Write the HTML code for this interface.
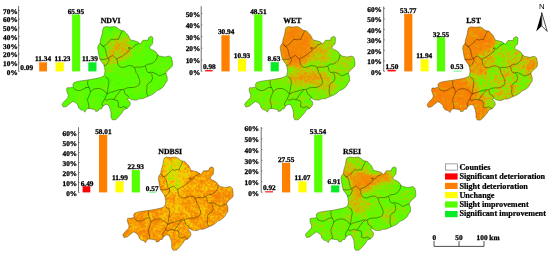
<!DOCTYPE html>
<html><head><meta charset="utf-8"><title>Figure</title>
<style>html,body{margin:0;padding:0;background:#fff}svg{display:block}</style></head>
<body>
<svg width="550" height="255" viewBox="0 0 550 255">
<defs>
<clipPath id="mc"><path d="M103.5 27.6 L106.0 26.5 L110.0 27.0 L115.0 26.5 L117.0 27.5 L119.5 29.5 L121.5 30.5 L124.0 30.8 L125.5 32.5 L128.0 35.0 L129.5 38.0 L130.5 40.0 L133.5 40.5 L137.0 41.5 L139.0 43.0 L140.5 44.0 L142.0 41.5 L143.0 40.2 L144.9 40.3 L148.1 40.1 L148.7 37.5 L151.3 36.3 L152.9 37.5 L152.9 40.7 L152.5 43.9 L150.6 45.8 L149.4 47.7 L151.3 49.4 L153.0 50.0 L156.0 52.0 L157.5 54.5 L159.5 56.0 L162.0 56.5 L164.5 57.0 L167.0 56.5 L169.5 56.0 L171.5 57.5 L172.2 60.5 L172.6 64.0 L172.0 66.5 L170.0 68.5 L168.0 70.0 L166.5 72.0 L165.9 73.3 L167.2 77.1 L167.2 80.9 L165.3 83.5 L164.0 86.0 L162.1 87.9 L159.5 89.8 L157.1 90.5 L154.5 93.1 L151.4 95.0 L148.2 96.3 L145.6 97.5 L142.5 98.8 L139.3 98.8 L136.7 100.1 L133.5 100.1 L131.0 99.5 L129.1 98.2 L127.2 98.8 L129.7 101.4 L130.4 103.9 L129.1 106.5 L127.2 108.4 L124.0 109.6 L122.1 112.8 L118.9 116.6 L115.7 119.8 L112.3 119.8 L111.0 117.3 L111.0 113.5 L110.4 109.6 L109.1 106.5 L107.8 104.5 L105.3 104.5 L102.7 106.5 L101.5 109.0 L99.5 109.0 L98.3 110.9 L95.7 111.5 L95.1 109.6 L91.9 109.0 L88.1 108.4 L86.2 109.6 L84.9 112.2 L83.0 110.3 L80.5 109.6 L78.5 107.7 L77.9 105.2 L75.4 102.6 L72.8 101.4 L69.6 103.9 L66.5 106.5 L63.3 107.1 L62.0 104.5 L63.3 102.4 L65.8 99.8 L67.7 97.9 L68.4 95.4 L67.1 92.2 L66.5 89.6 L67.1 87.7 L70.3 87.7 L73.5 86.7 L72.8 84.5 L74.1 82.6 L77.3 81.4 L80.5 80.9 L85.3 80.3 L90.4 79.5 L95.5 78.6 L100.5 77.4 L103.7 76.1 L104.6 74.2 L105.0 71.0 L104.6 67.8 L103.7 64.6 L101.8 62.1 L99.9 59.5 L99.3 57.0 L98.6 53.8 L98.0 50.0 L97.6 47.5 L98.5 44.9 L100.1 43.0 L100.4 39.8 L101.4 36.6 L102.3 33.5 L102.7 30.3Z"/></clipPath>
<filter id="bl" filterUnits="userSpaceOnUse" x="40" y="10" width="160" height="130" color-interpolation-filters="sRGB"><feGaussianBlur stdDeviation="3"/></filter>
<filter id="f0" filterUnits="userSpaceOnUse" x="58" y="22" width="120" height="102" color-interpolation-filters="sRGB">
<feTurbulence type="fractalNoise" baseFrequency="0.4" numOctaves="2" seed="3" result="n"/>
<feColorMatrix in="n" type="matrix" values="1 0 0 0 0  1 0 0 0 0  1 0 0 0 0  0 0 0 0 1" result="g"/>
<feTurbulence type="fractalNoise" baseFrequency="0.13" numOctaves="2" seed="4" result="m"/>
<feColorMatrix in="m" type="matrix" values="0 1 0 0 0  0 1 0 0 0  0 1 0 0 0  0 0 0 0 1" result="h"/>
<feComposite in="SourceGraphic" in2="g" operator="arithmetic" k1="0" k2="1" k3="0.4" k4="-0.2" result="c"/>
<feComposite in="c" in2="h" operator="arithmetic" k1="0" k2="1" k3="0.3" k4="-0.15" result="c2"/>
<feComponentTransfer in="c2" result="d"><feFuncR type="table" tableValues="0.157 0.235 0.333 0.353 0.490 0.686 0.843 0.925 0.957 0.973 0.980"/><feFuncG type="table" tableValues="0.922 0.961 1.000 0.988 0.933 0.831 0.706 0.596 0.541 0.510 0.486"/><feFuncB type="table" tableValues="0.118 0.059 0.000 0.000 0.000 0.000 0.000 0.020 0.024 0.020 0.020"/><feFuncA type="linear" slope="0" intercept="1"/></feComponentTransfer>
<feGaussianBlur in="d" stdDeviation="0.5"/>
</filter>
<filter id="f1" filterUnits="userSpaceOnUse" x="58" y="22" width="120" height="102" color-interpolation-filters="sRGB">
<feTurbulence type="fractalNoise" baseFrequency="0.4" numOctaves="2" seed="7" result="n"/>
<feColorMatrix in="n" type="matrix" values="1 0 0 0 0  1 0 0 0 0  1 0 0 0 0  0 0 0 0 1" result="g"/>
<feTurbulence type="fractalNoise" baseFrequency="0.13" numOctaves="2" seed="8" result="m"/>
<feColorMatrix in="m" type="matrix" values="0 1 0 0 0  0 1 0 0 0  0 1 0 0 0  0 0 0 0 1" result="h"/>
<feComposite in="SourceGraphic" in2="g" operator="arithmetic" k1="0" k2="1" k3="0.42" k4="-0.21" result="c"/>
<feComposite in="c" in2="h" operator="arithmetic" k1="0" k2="1" k3="0.3" k4="-0.15" result="c2"/>
<feComponentTransfer in="c2" result="d"><feFuncR type="table" tableValues="0.157 0.235 0.333 0.353 0.490 0.686 0.843 0.925 0.957 0.973 0.980"/><feFuncG type="table" tableValues="0.922 0.961 1.000 0.988 0.933 0.831 0.706 0.596 0.541 0.510 0.486"/><feFuncB type="table" tableValues="0.118 0.059 0.000 0.000 0.000 0.000 0.000 0.020 0.024 0.020 0.020"/><feFuncA type="linear" slope="0" intercept="1"/></feComponentTransfer>
<feGaussianBlur in="d" stdDeviation="0.5"/>
</filter>
<filter id="f2" filterUnits="userSpaceOnUse" x="58" y="22" width="120" height="102" color-interpolation-filters="sRGB">
<feTurbulence type="fractalNoise" baseFrequency="0.4" numOctaves="2" seed="11" result="n"/>
<feColorMatrix in="n" type="matrix" values="1 0 0 0 0  1 0 0 0 0  1 0 0 0 0  0 0 0 0 1" result="g"/>
<feTurbulence type="fractalNoise" baseFrequency="0.13" numOctaves="2" seed="12" result="m"/>
<feColorMatrix in="m" type="matrix" values="0 1 0 0 0  0 1 0 0 0  0 1 0 0 0  0 0 0 0 1" result="h"/>
<feComposite in="SourceGraphic" in2="g" operator="arithmetic" k1="0" k2="1" k3="0.6" k4="-0.3" result="c"/>
<feComposite in="c" in2="h" operator="arithmetic" k1="0" k2="1" k3="0.4" k4="-0.2" result="c2"/>
<feComponentTransfer in="c2" result="d"><feFuncR type="table" tableValues="0.157 0.235 0.333 0.353 0.490 0.686 0.843 0.925 0.957 0.973 0.980"/><feFuncG type="table" tableValues="0.922 0.961 1.000 0.988 0.933 0.831 0.706 0.596 0.541 0.510 0.486"/><feFuncB type="table" tableValues="0.118 0.059 0.000 0.000 0.000 0.000 0.000 0.020 0.024 0.020 0.020"/><feFuncA type="linear" slope="0" intercept="1"/></feComponentTransfer>
<feGaussianBlur in="d" stdDeviation="0.5"/>
</filter>
<filter id="f3" filterUnits="userSpaceOnUse" x="58" y="22" width="120" height="102" color-interpolation-filters="sRGB">
<feTurbulence type="fractalNoise" baseFrequency="0.4" numOctaves="2" seed="17" result="n"/>
<feColorMatrix in="n" type="matrix" values="1 0 0 0 0  1 0 0 0 0  1 0 0 0 0  0 0 0 0 1" result="g"/>
<feTurbulence type="fractalNoise" baseFrequency="0.13" numOctaves="2" seed="18" result="m"/>
<feColorMatrix in="m" type="matrix" values="0 1 0 0 0  0 1 0 0 0  0 1 0 0 0  0 0 0 0 1" result="h"/>
<feComposite in="SourceGraphic" in2="g" operator="arithmetic" k1="0" k2="1" k3="0.6" k4="-0.3" result="c"/>
<feComposite in="c" in2="h" operator="arithmetic" k1="0" k2="1" k3="0.4" k4="-0.2" result="c2"/>
<feComponentTransfer in="c2" result="d"><feFuncR type="table" tableValues="0.275 0.333 0.431 0.588 0.784 0.941 0.980 0.969 0.961 0.965 0.973"/><feFuncG type="table" tableValues="0.980 1.000 0.961 0.922 0.882 0.831 0.725 0.620 0.549 0.518 0.494"/><feFuncB type="table" tableValues="0.020 0.000 0.000 0.000 0.000 0.000 0.016 0.020 0.020 0.020 0.020"/><feFuncA type="linear" slope="0" intercept="1"/></feComponentTransfer>
<feGaussianBlur in="d" stdDeviation="0.5"/>
</filter>
<filter id="f4" filterUnits="userSpaceOnUse" x="58" y="22" width="120" height="102" color-interpolation-filters="sRGB">
<feTurbulence type="fractalNoise" baseFrequency="0.4" numOctaves="2" seed="23" result="n"/>
<feColorMatrix in="n" type="matrix" values="1 0 0 0 0  1 0 0 0 0  1 0 0 0 0  0 0 0 0 1" result="g"/>
<feTurbulence type="fractalNoise" baseFrequency="0.13" numOctaves="2" seed="24" result="m"/>
<feColorMatrix in="m" type="matrix" values="0 1 0 0 0  0 1 0 0 0  0 1 0 0 0  0 0 0 0 1" result="h"/>
<feComposite in="SourceGraphic" in2="g" operator="arithmetic" k1="0" k2="1" k3="0.42" k4="-0.21" result="c"/>
<feComposite in="c" in2="h" operator="arithmetic" k1="0" k2="1" k3="0.3" k4="-0.15" result="c2"/>
<feComponentTransfer in="c2" result="d"><feFuncR type="table" tableValues="0.157 0.235 0.333 0.353 0.490 0.686 0.843 0.925 0.957 0.973 0.980"/><feFuncG type="table" tableValues="0.922 0.961 1.000 0.988 0.933 0.831 0.706 0.596 0.541 0.510 0.486"/><feFuncB type="table" tableValues="0.118 0.059 0.000 0.000 0.000 0.000 0.000 0.020 0.024 0.020 0.020"/><feFuncA type="linear" slope="0" intercept="1"/></feComponentTransfer>
<feGaussianBlur in="d" stdDeviation="0.5"/>
</filter>
<g id="bd"><path d="M122.0 30.8 L121.2 33.0 L120.0 35.5 L119.0 37.5 L118.5 39.5 L116.5 39.0 L114.0 39.8 L111.5 39.0 L110.0 40.5 L108.5 42.5 L106.5 44.0 L105.0 45.5 L103.0 46.5 L101.5 45.0 L100.0 43.0 M101.5 45.0 L104.0 47.0 L105.5 49.5 L106.0 52.0 L106.5 54.5 L107.0 56.5 L108.5 58.0 M108.5 58.0 L106.0 59.0 L103.0 59.5 L100.0 59.0 M108.5 58.0 L110.5 56.5 L113.0 55.5 L114.5 57.0 L116.5 59.0 L119.5 57.5 L122.5 56.0 L125.0 54.0 L127.0 52.5 L129.0 51.0 L130.0 49.0 L128.0 48.0 L129.5 47.5 L131.5 48.5 L133.5 47.0 L135.0 45.0 L137.0 44.5 L139.0 43.0 M116.5 59.0 L117.5 61.0 L117.5 63.0 L118.5 65.5 L120.5 67.0 L123.5 67.5 L126.0 66.5 L129.0 65.5 L132.5 66.0 L134.5 67.5 L135.5 70.0 L136.0 72.5 L137.5 74.5 L138.5 77.0 L139.5 79.5 L140.0 82.0 L139.0 85.0 L136.5 86.5 L133.5 87.5 L130.0 87.5 L126.5 88.0 L123.5 89.5 L120.0 89.5 L117.0 90.5 L113.5 91.5 L110.0 92.5 L107.0 94.0 M134.5 67.5 L137.0 67.0 L140.0 67.2 L142.5 66.8 L145.0 66.0 L146.0 68.0 L146.5 70.5 L148.0 72.5 L150.0 72.6 L151.9 74.5 L152.5 78.4 L151.3 81.5 L148.7 82.8 L146.8 85.4 L147.0 88.0 L146.5 91.0 L147.0 94.0 L148.0 96.3 M145.0 66.0 L146.5 65.0 L148.5 64.0 L151.0 64.0 L153.5 62.5 L155.5 60.5 L157.0 58.0 L157.5 54.5 M150.0 72.0 L153.2 72.6 L156.4 73.9 L158.9 75.8 L161.5 75.2 L164.0 73.9 L165.9 73.3 M108.5 58.0 L109.0 60.5 L108.0 62.5 L107.0 64.0 L105.5 65.5 L104.0 65.0 M105.0 76.5 L108.0 78.5 L109.0 82.0 L108.5 85.0 L108.0 88.0 L107.5 91.0 L107.0 94.0 M88.0 80.5 L87.5 83.0 L88.0 85.5 L89.0 87.5 L90.0 89.5 L90.5 92.0 L89.5 94.5 L88.5 97.0 L87.5 99.5 L88.0 102.0 L89.0 106.0 L88.6 108.5 M73.5 87.5 L75.0 89.5 L77.5 90.5 L80.5 90.5 L83.5 89.0 L86.0 87.5 L89.0 87.5 M90.5 92.0 L93.0 89.5 L96.0 88.5 L99.5 88.5 L102.0 89.5 L104.5 91.0 L106.0 93.0 L107.0 94.0 M123.5 89.5 L124.5 92.0 L125.0 94.0 L127.5 95.5 L129.0 97.5 M107.0 94.0 L106.0 96.0 L105.0 98.5 L106.5 100.5 L108.5 99.5 L111.0 99.0 L113.0 99.5 L115.0 98.0 L116.5 95.5 L118.0 93.5 L120.0 91.0 L121.5 90.0 M113.0 99.5 L117.5 100.5 L118.5 103.0 L118.0 106.5 L121.2 107.7 L123.7 106.5 L127.2 108.4 M105.0 98.5 L103.5 101.0 L102.0 103.5 L102.7 106.5" fill="none" stroke="#1a1400" stroke-width="0.6" stroke-opacity="0.7" stroke-linejoin="round"/><path d="M103.5 27.6 L106.0 26.5 L110.0 27.0 L115.0 26.5 L117.0 27.5 L119.5 29.5 L121.5 30.5 L124.0 30.8 L125.5 32.5 L128.0 35.0 L129.5 38.0 L130.5 40.0 L133.5 40.5 L137.0 41.5 L139.0 43.0 L140.5 44.0 L142.0 41.5 L143.0 40.2 L144.9 40.3 L148.1 40.1 L148.7 37.5 L151.3 36.3 L152.9 37.5 L152.9 40.7 L152.5 43.9 L150.6 45.8 L149.4 47.7 L151.3 49.4 L153.0 50.0 L156.0 52.0 L157.5 54.5 L159.5 56.0 L162.0 56.5 L164.5 57.0 L167.0 56.5 L169.5 56.0 L171.5 57.5 L172.2 60.5 L172.6 64.0 L172.0 66.5 L170.0 68.5 L168.0 70.0 L166.5 72.0 L165.9 73.3 L167.2 77.1 L167.2 80.9 L165.3 83.5 L164.0 86.0 L162.1 87.9 L159.5 89.8 L157.1 90.5 L154.5 93.1 L151.4 95.0 L148.2 96.3 L145.6 97.5 L142.5 98.8 L139.3 98.8 L136.7 100.1 L133.5 100.1 L131.0 99.5 L129.1 98.2 L127.2 98.8 L129.7 101.4 L130.4 103.9 L129.1 106.5 L127.2 108.4 L124.0 109.6 L122.1 112.8 L118.9 116.6 L115.7 119.8 L112.3 119.8 L111.0 117.3 L111.0 113.5 L110.4 109.6 L109.1 106.5 L107.8 104.5 L105.3 104.5 L102.7 106.5 L101.5 109.0 L99.5 109.0 L98.3 110.9 L95.7 111.5 L95.1 109.6 L91.9 109.0 L88.1 108.4 L86.2 109.6 L84.9 112.2 L83.0 110.3 L80.5 109.6 L78.5 107.7 L77.9 105.2 L75.4 102.6 L72.8 101.4 L69.6 103.9 L66.5 106.5 L63.3 107.1 L62.0 104.5 L63.3 102.4 L65.8 99.8 L67.7 97.9 L68.4 95.4 L67.1 92.2 L66.5 89.6 L67.1 87.7 L70.3 87.7 L73.5 86.7 L72.8 84.5 L74.1 82.6 L77.3 81.4 L80.5 80.9 L85.3 80.3 L90.4 79.5 L95.5 78.6 L100.5 77.4 L103.7 76.1 L104.6 74.2 L105.0 71.0 L104.6 67.8 L103.7 64.6 L101.8 62.1 L99.9 59.5 L99.3 57.0 L98.6 53.8 L98.0 50.0 L97.6 47.5 L98.5 44.9 L100.1 43.0 L100.4 39.8 L101.4 36.6 L102.3 33.5 L102.7 30.3Z" fill="none" stroke="#2a2000" stroke-width="0.6" stroke-opacity="0.6" stroke-linejoin="round"/></g>
</defs>
<rect width="550" height="255" fill="#fff"/>
<g transform="translate(0 0)">
<g clip-path="url(#mc)"><g filter="url(#f0)"><rect x="58" y="22" width="120" height="102" fill="#454545"/><g filter="url(#bl)"><ellipse cx="119.5" cy="49.0" rx="13.2" ry="12.6" fill="#8f8f8f" transform="rotate(0 119.5 49.0)"/>
<ellipse cx="109.0" cy="62.0" rx="10.3" ry="6.9" fill="#7a7a7a" transform="rotate(0 109.0 62.0)"/>
<ellipse cx="134.0" cy="50.0" rx="3.4" ry="3.4" fill="#6b6b6b" transform="rotate(0 134.0 50.0)"/>
<ellipse cx="142.0" cy="87.0" rx="3.4" ry="5.8" fill="#666666" transform="rotate(0 142.0 87.0)"/></g></g></g>
<use href="#bd"/>
</g>
<g transform="translate(182.5 0)">
<g clip-path="url(#mc)"><g filter="url(#f1)"><rect x="58" y="22" width="120" height="102" fill="#5c5c5c"/><g filter="url(#bl)"><ellipse cx="113.5" cy="45.5" rx="17.8" ry="21.3" fill="#dbdbdb" transform="rotate(0 113.5 45.5)"/>
<ellipse cx="137.0" cy="52.0" rx="10.3" ry="11.5" fill="#8f8f8f" transform="rotate(0 137.0 52.0)"/>
<ellipse cx="127.0" cy="77.5" rx="21.8" ry="7.5" fill="#adadad" transform="rotate(0 127.0 77.5)"/>
<ellipse cx="145.0" cy="84.0" rx="8.0" ry="9.2" fill="#8a8a8a" transform="rotate(0 145.0 84.0)"/>
<ellipse cx="158.5" cy="63.0" rx="14.4" ry="10.3" fill="#737373" transform="rotate(0 158.5 63.0)"/>
<ellipse cx="148.0" cy="41.5" rx="5.8" ry="5.2" fill="#7a7a7a" transform="rotate(0 148.0 41.5)"/></g></g></g>
<use href="#bd"/>
</g>
<g transform="translate(365 0.3)">
<g clip-path="url(#mc)"><g filter="url(#f2)"><rect x="58" y="22" width="120" height="102" fill="#808080"/><g filter="url(#bl)"><ellipse cx="113.0" cy="38.0" rx="17.2" ry="13.8" fill="#dbdbdb" transform="rotate(0 113.0 38.0)"/>
<ellipse cx="104.0" cy="37.0" rx="2.3" ry="2.3" fill="#333333" transform="rotate(0 104.0 37.0)"/>
<ellipse cx="103.0" cy="55.0" rx="8.0" ry="12.6" fill="#dbdbdb" transform="rotate(0 103.0 55.0)"/>
<ellipse cx="118.0" cy="55.0" rx="9.2" ry="5.8" fill="#9e9e9e" transform="rotate(0 118.0 55.0)"/>
<ellipse cx="142.0" cy="43.0" rx="12.6" ry="8.0" fill="#525252" transform="rotate(0 142.0 43.0)"/>
<ellipse cx="147.0" cy="58.0" rx="10.3" ry="4.6" fill="#8c8c8c" transform="rotate(0 147.0 58.0)"/>
<ellipse cx="167.0" cy="65.0" rx="8.0" ry="10.3" fill="#adadad" transform="rotate(0 167.0 65.0)"/>
<ellipse cx="114.0" cy="67.0" rx="9.2" ry="8.0" fill="#b8b8b8" transform="rotate(0 114.0 67.0)"/>
<ellipse cx="84.0" cy="95.5" rx="27.6" ry="20.1" fill="#e0e0e0" transform="rotate(0 84.0 95.5)"/>
<ellipse cx="92.0" cy="106.0" rx="9.2" ry="6.9" fill="#dbdbdb" transform="rotate(0 92.0 106.0)"/>
<ellipse cx="119.0" cy="83.0" rx="9.2" ry="8.0" fill="#666666" transform="rotate(0 119.0 83.0)"/>
<ellipse cx="143.5" cy="84.0" rx="7.5" ry="13.8" fill="#8c8c8c" transform="rotate(0 143.5 84.0)"/>
<ellipse cx="159.5" cy="83.0" rx="10.9" ry="10.3" fill="#666666" transform="rotate(0 159.5 83.0)"/>
<ellipse cx="115.0" cy="109.5" rx="6.9" ry="13.2" fill="#cccccc" transform="rotate(0 115.0 109.5)"/>
<ellipse cx="127.0" cy="104.5" rx="4.6" ry="6.3" fill="#6b6b6b" transform="rotate(0 127.0 104.5)"/>
<ellipse cx="133.0" cy="65.0" rx="8.0" ry="8.0" fill="#6b6b6b" transform="rotate(0 133.0 65.0)"/></g></g></g>
<use href="#bd"/>
</g>
<g transform="translate(60.7 130.5)">
<g clip-path="url(#mc)"><g filter="url(#f3)"><rect x="58" y="22" width="120" height="102" fill="#b2b2b2"/><g filter="url(#bl)"><ellipse cx="113.0" cy="44.0" rx="12.6" ry="18.4" fill="#757575" transform="rotate(0 113.0 44.0)"/>
<ellipse cx="100.5" cy="54.0" rx="4.0" ry="11.5" fill="#c7c7c7" transform="rotate(0 100.5 54.0)"/>
<ellipse cx="112.0" cy="78.0" rx="8.0" ry="6.9" fill="#949494" transform="rotate(0 112.0 78.0)"/>
<ellipse cx="160.0" cy="65.0" rx="11.5" ry="8.0" fill="#c2c2c2" transform="rotate(0 160.0 65.0)"/>
<ellipse cx="82.0" cy="96.0" rx="20.7" ry="13.8" fill="#bdbdbd" transform="rotate(0 82.0 96.0)"/></g></g></g>
<use href="#bd"/>
</g>
<g transform="translate(243.3 130.5)">
<g clip-path="url(#mc)"><g filter="url(#f4)"><rect x="58" y="22" width="120" height="102" fill="#595959"/><g filter="url(#bl)"><ellipse cx="105.5" cy="41.0" rx="5.2" ry="8.0" fill="#b2b2b2" transform="rotate(0 105.5 41.0)"/>
<ellipse cx="120.0" cy="50.5" rx="12.6" ry="9.8" fill="#cccccc" transform="rotate(0 120.0 50.5)"/>
<ellipse cx="140.0" cy="47.0" rx="9.2" ry="5.8" fill="#cccccc" transform="rotate(0 140.0 47.0)"/>
<ellipse cx="113.0" cy="65.0" rx="5.8" ry="8.0" fill="#a8a8a8" transform="rotate(0 113.0 65.0)"/>
<ellipse cx="116.0" cy="77.0" rx="11.5" ry="5.8" fill="#949494" transform="rotate(0 116.0 77.0)"/>
<ellipse cx="144.0" cy="84.0" rx="4.6" ry="6.9" fill="#808080" transform="rotate(0 144.0 84.0)"/>
<ellipse cx="126.0" cy="103.0" rx="3.4" ry="3.4" fill="#949494" transform="rotate(0 126.0 103.0)"/>
<ellipse cx="113.0" cy="32.5" rx="10.3" ry="6.3" fill="#787878" transform="rotate(0 113.0 32.5)"/></g></g></g>
<use href="#bd"/>
</g>
<path d="M18.6 6.0 V71.4" stroke="#333" stroke-width="0.7" fill="none"/>
<path d="M18.6 71.4 h1.3" stroke="#333" stroke-width="0.5"/>
<text transform="translate(17.7 74.6) scale(1.00 1)" text-anchor="end" font-size="7.3" font-family="Liberation Serif, serif" font-weight="bold" stroke="#000" stroke-width="0.28" text-rendering="geometricPrecision">0%</text>
<path d="M18.6 62.7 h1.3" stroke="#333" stroke-width="0.5"/>
<text transform="translate(17.7 65.9) scale(1.00 1)" text-anchor="end" font-size="7.3" font-family="Liberation Serif, serif" font-weight="bold" stroke="#000" stroke-width="0.28" text-rendering="geometricPrecision">10%</text>
<path d="M18.6 54.0 h1.3" stroke="#333" stroke-width="0.5"/>
<text transform="translate(17.7 57.2) scale(1.00 1)" text-anchor="end" font-size="7.3" font-family="Liberation Serif, serif" font-weight="bold" stroke="#000" stroke-width="0.28" text-rendering="geometricPrecision">20%</text>
<path d="M18.6 45.3 h1.3" stroke="#333" stroke-width="0.5"/>
<text transform="translate(17.7 48.5) scale(1.00 1)" text-anchor="end" font-size="7.3" font-family="Liberation Serif, serif" font-weight="bold" stroke="#000" stroke-width="0.28" text-rendering="geometricPrecision">30%</text>
<path d="M18.6 36.6 h1.3" stroke="#333" stroke-width="0.5"/>
<text transform="translate(17.7 39.8) scale(1.00 1)" text-anchor="end" font-size="7.3" font-family="Liberation Serif, serif" font-weight="bold" stroke="#000" stroke-width="0.28" text-rendering="geometricPrecision">40%</text>
<path d="M18.6 27.9 h1.3" stroke="#333" stroke-width="0.5"/>
<text transform="translate(17.7 31.1) scale(1.00 1)" text-anchor="end" font-size="7.3" font-family="Liberation Serif, serif" font-weight="bold" stroke="#000" stroke-width="0.28" text-rendering="geometricPrecision">50%</text>
<path d="M18.6 19.2 h1.3" stroke="#333" stroke-width="0.5"/>
<text transform="translate(17.7 22.4) scale(1.00 1)" text-anchor="end" font-size="7.3" font-family="Liberation Serif, serif" font-weight="bold" stroke="#000" stroke-width="0.28" text-rendering="geometricPrecision">60%</text>
<path d="M18.6 10.5 h1.3" stroke="#333" stroke-width="0.5"/>
<text transform="translate(17.7 13.7) scale(1.00 1)" text-anchor="end" font-size="7.3" font-family="Liberation Serif, serif" font-weight="bold" stroke="#000" stroke-width="0.28" text-rendering="geometricPrecision">70%</text>
<rect x="39.2" y="62.3" width="7.8" height="9.1" fill="#FF8000"/>
<rect x="55.6" y="62.3" width="8.2" height="9.1" fill="#FFFF00"/>
<rect x="72.1" y="14.6" width="8.1" height="56.8" fill="#55FF00"/>
<rect x="88.3" y="62.3" width="8.2" height="9.1" fill="#0AEB28"/>
<text transform="translate(26.7 69.6) scale(1.00 1)" text-anchor="middle" font-size="7.3" font-family="Liberation Serif, serif" font-weight="bold" stroke="#000" stroke-width="0.28" text-rendering="geometricPrecision">0.09</text>
<text transform="translate(43.1 60.8) scale(1.00 1)" text-anchor="middle" font-size="7.3" font-family="Liberation Serif, serif" font-weight="bold" stroke="#000" stroke-width="0.28" text-rendering="geometricPrecision">11.34</text>
<text transform="translate(62.5 61.2) scale(1.00 1)" text-anchor="middle" font-size="7.3" font-family="Liberation Serif, serif" font-weight="bold" stroke="#000" stroke-width="0.28" text-rendering="geometricPrecision">11.23</text>
<text transform="translate(75.9 13.9) scale(1.00 1)" text-anchor="middle" font-size="7.3" font-family="Liberation Serif, serif" font-weight="bold" stroke="#000" stroke-width="0.28" text-rendering="geometricPrecision">65.95</text>
<text transform="translate(89.9 61.2) scale(1.00 1)" text-anchor="middle" font-size="7.3" font-family="Liberation Serif, serif" font-weight="bold" stroke="#000" stroke-width="0.28" text-rendering="geometricPrecision">11.39</text>
<path d="M201.2 6.2 V71.4" stroke="#333" stroke-width="0.7" fill="none"/>
<path d="M201.2 71.4 h1.3" stroke="#333" stroke-width="0.5"/>
<text transform="translate(200.3 74.6) scale(1.00 1)" text-anchor="end" font-size="7.3" font-family="Liberation Serif, serif" font-weight="bold" stroke="#000" stroke-width="0.28" text-rendering="geometricPrecision">0%</text>
<path d="M201.2 59.8 h1.3" stroke="#333" stroke-width="0.5"/>
<text transform="translate(200.3 63.0) scale(1.00 1)" text-anchor="end" font-size="7.3" font-family="Liberation Serif, serif" font-weight="bold" stroke="#000" stroke-width="0.28" text-rendering="geometricPrecision">10%</text>
<path d="M201.2 48.2 h1.3" stroke="#333" stroke-width="0.5"/>
<text transform="translate(200.3 51.4) scale(1.00 1)" text-anchor="end" font-size="7.3" font-family="Liberation Serif, serif" font-weight="bold" stroke="#000" stroke-width="0.28" text-rendering="geometricPrecision">20%</text>
<path d="M201.2 36.6 h1.3" stroke="#333" stroke-width="0.5"/>
<text transform="translate(200.3 39.8) scale(1.00 1)" text-anchor="end" font-size="7.3" font-family="Liberation Serif, serif" font-weight="bold" stroke="#000" stroke-width="0.28" text-rendering="geometricPrecision">30%</text>
<path d="M201.2 25.0 h1.3" stroke="#333" stroke-width="0.5"/>
<text transform="translate(200.3 28.2) scale(1.00 1)" text-anchor="end" font-size="7.3" font-family="Liberation Serif, serif" font-weight="bold" stroke="#000" stroke-width="0.28" text-rendering="geometricPrecision">40%</text>
<path d="M201.2 13.4 h1.3" stroke="#333" stroke-width="0.5"/>
<text transform="translate(200.3 16.6) scale(1.00 1)" text-anchor="end" font-size="7.3" font-family="Liberation Serif, serif" font-weight="bold" stroke="#000" stroke-width="0.28" text-rendering="geometricPrecision">50%</text>
<rect x="205.1" y="70.1" width="7.6" height="1.3" fill="#FF0000"/>
<rect x="221.4" y="35.2" width="8.3" height="36.2" fill="#FF8000"/>
<rect x="237.9" y="58.8" width="8.2" height="12.6" fill="#FFFF00"/>
<rect x="254.2" y="14.4" width="8.2" height="57.0" fill="#55FF00"/>
<rect x="270.6" y="62.1" width="8.2" height="9.3" fill="#0AEB28"/>
<text transform="translate(209.3 68.8) scale(1.00 1)" text-anchor="middle" font-size="7.3" font-family="Liberation Serif, serif" font-weight="bold" stroke="#000" stroke-width="0.28" text-rendering="geometricPrecision">0.98</text>
<text transform="translate(226.1 34.4) scale(1.00 1)" text-anchor="middle" font-size="7.3" font-family="Liberation Serif, serif" font-weight="bold" stroke="#000" stroke-width="0.28" text-rendering="geometricPrecision">30.94</text>
<text transform="translate(242.0 57.6) scale(1.00 1)" text-anchor="middle" font-size="7.3" font-family="Liberation Serif, serif" font-weight="bold" stroke="#000" stroke-width="0.28" text-rendering="geometricPrecision">10.93</text>
<text transform="translate(258.4 13.5) scale(1.00 1)" text-anchor="middle" font-size="7.3" font-family="Liberation Serif, serif" font-weight="bold" stroke="#000" stroke-width="0.28" text-rendering="geometricPrecision">48.51</text>
<text transform="translate(274.0 60.6) scale(1.00 1)" text-anchor="middle" font-size="7.3" font-family="Liberation Serif, serif" font-weight="bold" stroke="#000" stroke-width="0.28" text-rendering="geometricPrecision">8.63</text>
<path d="M383.7 6.5 V71.4" stroke="#333" stroke-width="0.7" fill="none"/>
<path d="M383.7 71.4 h1.3" stroke="#333" stroke-width="0.5"/>
<text transform="translate(381.9 74.6) scale(1.00 1)" text-anchor="end" font-size="7.3" font-family="Liberation Serif, serif" font-weight="bold" stroke="#000" stroke-width="0.28" text-rendering="geometricPrecision">0%</text>
<path d="M383.7 60.9 h1.3" stroke="#333" stroke-width="0.5"/>
<text transform="translate(381.9 64.1) scale(1.00 1)" text-anchor="end" font-size="7.3" font-family="Liberation Serif, serif" font-weight="bold" stroke="#000" stroke-width="0.28" text-rendering="geometricPrecision">10%</text>
<path d="M383.7 50.4 h1.3" stroke="#333" stroke-width="0.5"/>
<text transform="translate(381.9 53.6) scale(1.00 1)" text-anchor="end" font-size="7.3" font-family="Liberation Serif, serif" font-weight="bold" stroke="#000" stroke-width="0.28" text-rendering="geometricPrecision">20%</text>
<path d="M383.7 39.9 h1.3" stroke="#333" stroke-width="0.5"/>
<text transform="translate(381.9 43.1) scale(1.00 1)" text-anchor="end" font-size="7.3" font-family="Liberation Serif, serif" font-weight="bold" stroke="#000" stroke-width="0.28" text-rendering="geometricPrecision">30%</text>
<path d="M383.7 29.4 h1.3" stroke="#333" stroke-width="0.5"/>
<text transform="translate(381.9 32.6) scale(1.00 1)" text-anchor="end" font-size="7.3" font-family="Liberation Serif, serif" font-weight="bold" stroke="#000" stroke-width="0.28" text-rendering="geometricPrecision">40%</text>
<path d="M383.7 18.9 h1.3" stroke="#333" stroke-width="0.5"/>
<text transform="translate(381.9 22.1) scale(1.00 1)" text-anchor="end" font-size="7.3" font-family="Liberation Serif, serif" font-weight="bold" stroke="#000" stroke-width="0.28" text-rendering="geometricPrecision">50%</text>
<path d="M383.7 8.4 h1.3" stroke="#333" stroke-width="0.5"/>
<text transform="translate(381.9 11.6) scale(1.00 1)" text-anchor="end" font-size="7.3" font-family="Liberation Serif, serif" font-weight="bold" stroke="#000" stroke-width="0.28" text-rendering="geometricPrecision">60%</text>
<rect x="387.5" y="69.8" width="8.2" height="1.6" fill="#FF0000"/>
<rect x="404.2" y="13.9" width="8.2" height="57.5" fill="#FF8000"/>
<rect x="420.6" y="59.3" width="8.1" height="12.1" fill="#FFFF00"/>
<rect x="436.9" y="37.3" width="8.2" height="34.1" fill="#55FF00"/>
<rect x="453.6" y="70.8" width="7.9" height="0.6" fill="#0AEB28"/>
<text transform="translate(391.9 68.8) scale(1.00 1)" text-anchor="middle" font-size="7.3" font-family="Liberation Serif, serif" font-weight="bold" stroke="#000" stroke-width="0.28" text-rendering="geometricPrecision">1.50</text>
<text transform="translate(408.3 13.0) scale(1.00 1)" text-anchor="middle" font-size="7.3" font-family="Liberation Serif, serif" font-weight="bold" stroke="#000" stroke-width="0.28" text-rendering="geometricPrecision">53.77</text>
<text transform="translate(424.2 58.0) scale(1.00 1)" text-anchor="middle" font-size="7.3" font-family="Liberation Serif, serif" font-weight="bold" stroke="#000" stroke-width="0.28" text-rendering="geometricPrecision">11.94</text>
<text transform="translate(441.0 36.5) scale(1.00 1)" text-anchor="middle" font-size="7.3" font-family="Liberation Serif, serif" font-weight="bold" stroke="#000" stroke-width="0.28" text-rendering="geometricPrecision">32.55</text>
<text transform="translate(457.0 69.4) scale(1.00 1)" text-anchor="middle" font-size="7.3" font-family="Liberation Serif, serif" font-weight="bold" stroke="#000" stroke-width="0.28" text-rendering="geometricPrecision">0.53</text>
<path d="M78.5 127.2 V192.4" stroke="#333" stroke-width="0.7" fill="none"/>
<path d="M78.5 192.4 h1.3" stroke="#333" stroke-width="0.5"/>
<text transform="translate(77.1 195.6) scale(1.00 1)" text-anchor="end" font-size="7.3" font-family="Liberation Serif, serif" font-weight="bold" stroke="#000" stroke-width="0.28" text-rendering="geometricPrecision">0%</text>
<path d="M78.5 182.4 h1.3" stroke="#333" stroke-width="0.5"/>
<text transform="translate(77.1 185.6) scale(1.00 1)" text-anchor="end" font-size="7.3" font-family="Liberation Serif, serif" font-weight="bold" stroke="#000" stroke-width="0.28" text-rendering="geometricPrecision">10%</text>
<path d="M78.5 172.5 h1.3" stroke="#333" stroke-width="0.5"/>
<text transform="translate(77.1 175.6) scale(1.00 1)" text-anchor="end" font-size="7.3" font-family="Liberation Serif, serif" font-weight="bold" stroke="#000" stroke-width="0.28" text-rendering="geometricPrecision">20%</text>
<path d="M78.5 162.5 h1.3" stroke="#333" stroke-width="0.5"/>
<text transform="translate(77.1 165.7) scale(1.00 1)" text-anchor="end" font-size="7.3" font-family="Liberation Serif, serif" font-weight="bold" stroke="#000" stroke-width="0.28" text-rendering="geometricPrecision">30%</text>
<path d="M78.5 152.5 h1.3" stroke="#333" stroke-width="0.5"/>
<text transform="translate(77.1 155.7) scale(1.00 1)" text-anchor="end" font-size="7.3" font-family="Liberation Serif, serif" font-weight="bold" stroke="#000" stroke-width="0.28" text-rendering="geometricPrecision">40%</text>
<path d="M78.5 142.6 h1.3" stroke="#333" stroke-width="0.5"/>
<text transform="translate(77.1 145.7) scale(1.00 1)" text-anchor="end" font-size="7.3" font-family="Liberation Serif, serif" font-weight="bold" stroke="#000" stroke-width="0.28" text-rendering="geometricPrecision">50%</text>
<path d="M78.5 132.6 h1.3" stroke="#333" stroke-width="0.5"/>
<text transform="translate(77.1 135.7) scale(1.00 1)" text-anchor="end" font-size="7.3" font-family="Liberation Serif, serif" font-weight="bold" stroke="#000" stroke-width="0.28" text-rendering="geometricPrecision">60%</text>
<rect x="82.6" y="186.2" width="7.7" height="6.2" fill="#FF0000"/>
<rect x="99.0" y="134.8" width="8.2" height="57.6" fill="#FF8000"/>
<rect x="115.4" y="181.3" width="8.2" height="11.1" fill="#FFFF00"/>
<rect x="131.7" y="170.1" width="8.2" height="22.3" fill="#55FF00"/>
<rect x="148.9" y="191.8" width="7.4" height="0.6" fill="#0AEB28"/>
<text transform="translate(87.1 185.5) scale(1.00 1)" text-anchor="middle" font-size="7.3" font-family="Liberation Serif, serif" font-weight="bold" stroke="#000" stroke-width="0.28" text-rendering="geometricPrecision">6.49</text>
<text transform="translate(103.4 133.9) scale(1.00 1)" text-anchor="middle" font-size="7.3" font-family="Liberation Serif, serif" font-weight="bold" stroke="#000" stroke-width="0.28" text-rendering="geometricPrecision">58.01</text>
<text transform="translate(119.9 180.2) scale(1.00 1)" text-anchor="middle" font-size="7.3" font-family="Liberation Serif, serif" font-weight="bold" stroke="#000" stroke-width="0.28" text-rendering="geometricPrecision">11.99</text>
<text transform="translate(135.8 168.9) scale(1.00 1)" text-anchor="middle" font-size="7.3" font-family="Liberation Serif, serif" font-weight="bold" stroke="#000" stroke-width="0.28" text-rendering="geometricPrecision">22.93</text>
<text transform="translate(152.2 191.4) scale(1.00 1)" text-anchor="middle" font-size="7.3" font-family="Liberation Serif, serif" font-weight="bold" stroke="#000" stroke-width="0.28" text-rendering="geometricPrecision">0.57</text>
<path d="M261.2 127.2 V192.4" stroke="#333" stroke-width="0.7" fill="none"/>
<path d="M261.2 192.4 h1.3" stroke="#333" stroke-width="0.5"/>
<text transform="translate(259.1 195.6) scale(1.00 1)" text-anchor="end" font-size="7.3" font-family="Liberation Serif, serif" font-weight="bold" stroke="#000" stroke-width="0.28" text-rendering="geometricPrecision">0%</text>
<path d="M261.2 181.7 h1.3" stroke="#333" stroke-width="0.5"/>
<text transform="translate(259.1 184.9) scale(1.00 1)" text-anchor="end" font-size="7.3" font-family="Liberation Serif, serif" font-weight="bold" stroke="#000" stroke-width="0.28" text-rendering="geometricPrecision">10%</text>
<path d="M261.2 171.0 h1.3" stroke="#333" stroke-width="0.5"/>
<text transform="translate(259.1 174.2) scale(1.00 1)" text-anchor="end" font-size="7.3" font-family="Liberation Serif, serif" font-weight="bold" stroke="#000" stroke-width="0.28" text-rendering="geometricPrecision">20%</text>
<path d="M261.2 160.3 h1.3" stroke="#333" stroke-width="0.5"/>
<text transform="translate(259.1 163.5) scale(1.00 1)" text-anchor="end" font-size="7.3" font-family="Liberation Serif, serif" font-weight="bold" stroke="#000" stroke-width="0.28" text-rendering="geometricPrecision">30%</text>
<path d="M261.2 149.6 h1.3" stroke="#333" stroke-width="0.5"/>
<text transform="translate(259.1 152.8) scale(1.00 1)" text-anchor="end" font-size="7.3" font-family="Liberation Serif, serif" font-weight="bold" stroke="#000" stroke-width="0.28" text-rendering="geometricPrecision">40%</text>
<path d="M261.2 138.9 h1.3" stroke="#333" stroke-width="0.5"/>
<text transform="translate(259.1 142.1) scale(1.00 1)" text-anchor="end" font-size="7.3" font-family="Liberation Serif, serif" font-weight="bold" stroke="#000" stroke-width="0.28" text-rendering="geometricPrecision">50%</text>
<path d="M261.2 128.2 h1.3" stroke="#333" stroke-width="0.5"/>
<text transform="translate(259.1 131.4) scale(1.00 1)" text-anchor="end" font-size="7.3" font-family="Liberation Serif, serif" font-weight="bold" stroke="#000" stroke-width="0.28" text-rendering="geometricPrecision">60%</text>
<rect x="265.1" y="191.3" width="7.9" height="1.1" fill="#FF0000"/>
<rect x="282.0" y="162.9" width="8.2" height="29.5" fill="#FF8000"/>
<rect x="298.4" y="181.3" width="8.2" height="11.1" fill="#FFFF00"/>
<rect x="314.2" y="134.8" width="8.2" height="57.6" fill="#55FF00"/>
<rect x="331.1" y="185.4" width="8.2" height="7.0" fill="#0AEB28"/>
<text transform="translate(269.3 190.4) scale(1.00 1)" text-anchor="middle" font-size="7.3" font-family="Liberation Serif, serif" font-weight="bold" stroke="#000" stroke-width="0.28" text-rendering="geometricPrecision">0.92</text>
<text transform="translate(286.1 162.0) scale(1.00 1)" text-anchor="middle" font-size="7.3" font-family="Liberation Serif, serif" font-weight="bold" stroke="#000" stroke-width="0.28" text-rendering="geometricPrecision">27.55</text>
<text transform="translate(302.5 180.2) scale(1.00 1)" text-anchor="middle" font-size="7.3" font-family="Liberation Serif, serif" font-weight="bold" stroke="#000" stroke-width="0.28" text-rendering="geometricPrecision">11.07</text>
<text transform="translate(318.0 133.9) scale(1.00 1)" text-anchor="middle" font-size="7.3" font-family="Liberation Serif, serif" font-weight="bold" stroke="#000" stroke-width="0.28" text-rendering="geometricPrecision">53.54</text>
<text transform="translate(334.0 184.2) scale(1.00 1)" text-anchor="middle" font-size="7.3" font-family="Liberation Serif, serif" font-weight="bold" stroke="#000" stroke-width="0.28" text-rendering="geometricPrecision">6.91</text>
<text x="110.7" y="23.1" text-anchor="middle" font-size="7.8" font-family="Liberation Serif, serif" font-weight="bold" stroke="#000" stroke-width="0.28" text-rendering="geometricPrecision">NDVI</text>
<text x="292.4" y="23.2" text-anchor="middle" font-size="7.8" font-family="Liberation Serif, serif" font-weight="bold" stroke="#000" stroke-width="0.28" text-rendering="geometricPrecision">WET</text>
<text x="473.5" y="23.2" text-anchor="middle" font-size="7.8" font-family="Liberation Serif, serif" font-weight="bold" stroke="#000" stroke-width="0.28" text-rendering="geometricPrecision">LST</text>
<text x="170.2" y="154.2" text-anchor="middle" font-size="7.8" font-family="Liberation Serif, serif" font-weight="bold" stroke="#000" stroke-width="0.28" text-rendering="geometricPrecision">NDBSI</text>
<text x="352.0" y="154.2" text-anchor="middle" font-size="7.8" font-family="Liberation Serif, serif" font-weight="bold" stroke="#000" stroke-width="0.28" text-rendering="geometricPrecision">RSEI</text>
<rect x="445.3" y="163.9" width="12" height="6.2" fill="#fff" stroke="#666" stroke-width="0.6"/>
<text x="459.4" y="169.7" font-size="8.2" font-family="Liberation Serif, serif" font-weight="bold" stroke="#000" stroke-width="0.22">Counties</text>
<rect x="445" y="173.4" width="12.6" height="6.2" fill="#FF0000"/>
<text x="459.4" y="179.1" font-size="8.2" font-family="Liberation Serif, serif" font-weight="bold" stroke="#000" stroke-width="0.22">Significant deterioration</text>
<rect x="445" y="182.8" width="12.6" height="6.2" fill="#FF8000"/>
<text x="459.4" y="188.5" font-size="8.2" font-family="Liberation Serif, serif" font-weight="bold" stroke="#000" stroke-width="0.22">Slight deterioration</text>
<rect x="445" y="192.0" width="12.6" height="6.2" fill="#FFFF00"/>
<text x="459.4" y="197.9" font-size="8.2" font-family="Liberation Serif, serif" font-weight="bold" stroke="#000" stroke-width="0.22">Unchange</text>
<rect x="445" y="201.4" width="12.6" height="6.2" fill="#55FF00"/>
<text x="459.4" y="206.9" font-size="8.2" font-family="Liberation Serif, serif" font-weight="bold" stroke="#000" stroke-width="0.22">Slight improvement</text>
<rect x="445" y="211.0" width="12.6" height="6.2" fill="#0AEB28"/>
<text x="459.4" y="216.1" font-size="8.2" font-family="Liberation Serif, serif" font-weight="bold" stroke="#000" stroke-width="0.22">Significant improvement</text>
<path d="M434 241 V246.4 H484 V241 M459 241 V246.4" stroke="#222" stroke-width="0.8" fill="none"/>
<text x="434.4" y="239.6" text-anchor="middle" font-size="7.3" font-family="Liberation Serif, serif" font-weight="bold" stroke="#000" stroke-width="0.28" text-rendering="geometricPrecision">0</text>
<text x="459" y="239.6" text-anchor="middle" font-size="7.3" font-family="Liberation Serif, serif" font-weight="bold" stroke="#000" stroke-width="0.28" text-rendering="geometricPrecision">50</text>
<text x="476.6" y="239.6" font-size="7.3" font-family="Liberation Serif, serif" font-weight="bold" stroke="#000" stroke-width="0.28" text-rendering="geometricPrecision">100 km</text>
<text x="541.9" y="9" text-anchor="middle" font-size="7.8" font-family="Liberation Sans, sans-serif">N</text>
<path d="M541.7 12.5 L536.2 31.4 L541.7 25.9 Z" fill="#000"/>
<path d="M541.7 12.5 L547.2 31.4 L541.7 25.9 Z" fill="#fff" stroke="#000" stroke-width="0.7" stroke-linejoin="miter"/>
</svg>
</body></html>
